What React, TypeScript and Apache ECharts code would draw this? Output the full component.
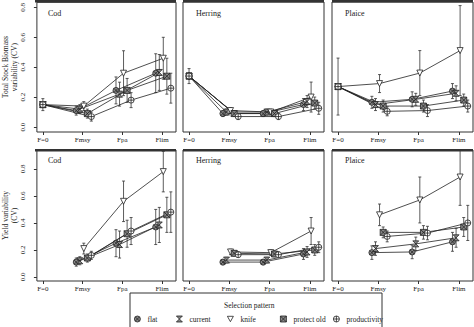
import React, { useEffect, useRef } from 'react';
import * as echarts from 'echarts';

const fLevels = ['F=0', 'Fmsy', 'Fpa', 'Flim'];
const patterns = ['flat', 'current', 'knife', 'protect old', 'productivity'];
const stocks = ['Cod', 'Herring', 'Plaice'];
const yTicks = [0, 0.2, 0.4, 0.6, 0.8];

// Total stock biomass variability (CV); rows = selection patterns, columns = F levels
const codTsb = [
  [0.15, 0.11, 0.245, 0.36],
  [0.15, 0.12, 0.22, 0.365],
  [0.15, 0.14, 0.36, 0.46],
  [0.15, 0.09, 0.245, 0.34],
  [0.15, 0.07, 0.18, 0.26],
];
const codTsbErr = [
  [0.04, 0.03, 0.09, 0.13],
  [0.04, 0.03, 0.08, 0.12],
  [0.04, 0.03, 0.15, 0.14],
  [0.04, 0.03, 0.08, 0.12],
  [0.04, 0.03, 0.05, 0.1],
];
const herTsb = [
  [0.34, 0.09, 0.09, 0.15],
  [0.34, 0.1, 0.1, 0.17],
  [0.34, 0.11, 0.1, 0.2],
  [0.34, 0.09, 0.09, 0.16],
  [0.34, 0.07, 0.07, 0.125],
];
const herTsbErr = [
  [0.05, 0.02, 0.02, 0.04],
  [0.05, 0.02, 0.02, 0.04],
  [0.05, 0.02, 0.02, 0.1],
  [0.05, 0.02, 0.02, 0.04],
  [0.05, 0.02, 0.02, 0.04],
];
const plaTsb = [
  [0.27, 0.165, 0.185, 0.24],
  [0.27, 0.15, 0.185, 0.225],
  [0.27, 0.29, 0.36, 0.51],
  [0.27, 0.14, 0.14, 0.18],
  [0.27, 0.105, 0.11, 0.14],
];
const plaTsbErr = [
  [0.19, 0.04, 0.05, 0.05],
  [0.19, 0.04, 0.04, 0.05],
  [0.19, 0.06, 0.15, 0.3],
  [0.19, 0.04, 0.04, 0.04],
  [0.19, 0.03, 0.04, 0.04],
];

// Yield variability (CV); no yield at F=0
const codYield = [
  [null, 0.11, 0.25, 0.37],
  [null, 0.12, 0.24, 0.385],
  [null, 0.21, 0.56, 0.78],
  [null, 0.14, 0.32, 0.46],
  [null, 0.16, 0.34, 0.48],
];
const codYieldErr = [
  [null, 0.03, 0.1, 0.13],
  [null, 0.03, 0.1, 0.13],
  [null, 0.04, 0.15, 0.15],
  [null, 0.03, 0.1, 0.13],
  [null, 0.03, 0.1, 0.15],
];
const herYield = [
  [null, 0.11, 0.11, 0.17],
  [null, 0.125, 0.125, 0.185],
  [null, 0.185, 0.18, 0.34],
  [null, 0.175, 0.17, 0.2],
  [null, 0.165, 0.165, 0.22],
];
const herYieldErr = [
  [null, 0.02, 0.02, 0.04],
  [null, 0.02, 0.02, 0.04],
  [null, 0.02, 0.02, 0.1],
  [null, 0.02, 0.02, 0.04],
  [null, 0.02, 0.02, 0.04],
];
const plaYield = [
  [null, 0.18, 0.185, 0.26],
  [null, 0.21, 0.245, 0.29],
  [null, 0.46, 0.57, 0.74],
  [null, 0.33, 0.33, 0.37],
  [null, 0.3, 0.325, 0.4],
];
const plaYieldErr = [
  [null, 0.05, 0.05, 0.07],
  [null, 0.05, 0.05, 0.07],
  [null, 0.08, 0.17, 0.21],
  [null, 0.04, 0.05, 0.07],
  [null, 0.04, 0.05, 0.13],
];

const panelValues = [codTsb, herTsb, plaTsb, codYield, herYield, plaYield];
const panelErrors = [codTsbErr, herTsbErr, plaTsbErr, codYieldErr, herYieldErr, plaYieldErr];

// layout / style constants
const dodge = [-0.16, -0.07, 0.03, 0.12, 0.22];
const symbols = [
  'path://M0,-10A10,10 0 1,1 0,10A10,10 0 1,1 0,-10ZM-7,-7L7,7M7,-7L-7,7',
  'path://M-10,-10H10L-10,10H10Z',
  'path://M-10,-8H10L0,10Z',
  'path://M-10,-10H10V10H-10ZM-10,-10L10,10M10,-10L-10,10',
  'path://M0,-10A10,10 0 1,1 0,10A10,10 0 1,1 0,-10ZM0,-10V10M-10,0H10',
];
const fills = ['#888', '#888', '#fff', '#888', '#fff'];
const ink = '#222';
const serif = '"Liberation Serif", "DejaVu Serif", serif';
const gridLefts = [35, 183, 332];
const gridWidth = 141;
const rowTops = [2, 150];
const rowHeights = [130, 131];
const rowYMin = [-0.033, -0.03];
const rowYMax = [0.834, 0.94];
const yNames = ['Total Stock Biomass\nvariability (CV)', 'Yield variability\n(CV)'];
const legendLefts = [134, 176, 227, 280, 333];

function buildOption() {
  const grid: any[] = [];
  const xAxis: any[] = [];
  const yAxis: any[] = [];
  const series: any[] = [];
  const graphic: any[] = [];

  for (let r = 0; r < 2; r++) {
    for (let c = 0; c < 3; c++) {
      const p = r * 3 + c;
      grid.push({
        left: gridLefts[c],
        top: rowTops[r],
        width: gridWidth,
        height: rowHeights[r],
        show: true,
        borderColor: '#333',
        borderWidth: 1,
        backgroundColor: '#fff',
      });
      xAxis.push({
        type: 'value',
        gridIndex: p,
        min: -0.15,
        max: 3.35,
        splitLine: { show: false },
        axisLine: { show: false, onZero: false },
        axisTick: {
          show: true,
          customValues: [0, 1, 2, 3],
          length: 3,
          lineStyle: { color: '#333', width: 1 },
        },
        axisLabel: {
          customValues: [0, 1, 2, 3],
          formatter: (v: number) => fLevels[Math.round(v)],
          fontSize: 7,
          fontFamily: serif,
          color: ink,
          margin: 4,
        },
      });
      yAxis.push({
        type: 'value',
        gridIndex: p,
        min: rowYMin[r],
        max: rowYMax[r],
        splitLine: { show: false },
        axisLine: { show: false, onZero: false },
        axisTick: {
          show: c === 0,
          customValues: yTicks,
          length: 3,
          lineStyle: { color: '#333', width: 1 },
        },
        axisLabel: {
          show: c === 0,
          customValues: yTicks,
          rotate: 90,
          formatter: (v: number) => v.toFixed(1),
          fontSize: 7,
          fontFamily: serif,
          color: ink,
          margin: 10,
        },
        name: c === 0 ? yNames[r] : '',
        nameLocation: 'middle',
        nameRotate: 90,
        nameGap: 17,
        nameTextStyle: { fontSize: 7.5, fontFamily: serif, color: ink, lineHeight: 9 },
      });

      const vals = panelValues[p];
      const errs = panelErrors[p];
      const barData: number[][] = [];
      vals.forEach((row, s) => {
        row.forEach((v, i) => {
          if (v == null) return;
          if (i === 0 && s > 0) return;
          const e = errs[s][i] as number;
          const x = i === 0 ? 0 : i + dodge[s];
          barData.push([x, v - e, v + e]);
        });
      });
      series.push({
        type: 'custom',
        xAxisIndex: p,
        yAxisIndex: p,
        clip: true,
        z: 1,
        silent: true,
        data: barData,
        renderItem: (params: any, api: any) => {
          const x = api.value(0);
          const lo = api.coord([x, api.value(1)]);
          const hi = api.coord([x, api.value(2)]);
          const st = { stroke: '#333', lineWidth: 0.8 };
          return {
            type: 'group',
            children: [
              { type: 'line', shape: { x1: lo[0], y1: lo[1], x2: hi[0], y2: hi[1] }, style: st },
              { type: 'line', shape: { x1: lo[0] - 1.5, y1: lo[1], x2: lo[0] + 1.5, y2: lo[1] }, style: st },
              { type: 'line', shape: { x1: hi[0] - 1.5, y1: hi[1], x2: hi[0] + 1.5, y2: hi[1] }, style: st },
            ],
          };
        },
      });
      vals.forEach((row, s) => {
        const data = row
          .map((v, i) => (v == null ? null : [i === 0 ? 0 : i + dodge[s], v]))
          .filter((d) => d !== null);
        series.push({
          type: 'line',
          name: patterns[s],
          xAxisIndex: p,
          yAxisIndex: p,
          data,
          symbol: symbols[s],
          symbolSize: 6,
          showSymbol: true,
          z: 3,
          silent: true,
          lineStyle: { color: ink, width: 0.8 },
          itemStyle: { color: fills[s], borderColor: ink, borderWidth: 0.8 },
          emphasis: { disabled: true },
        });
      });

      graphic.push({
        type: 'text',
        left: gridLefts[c] + 13,
        top: rowTops[r] + (r === 0 ? 7 : 6),
        style: { text: stocks[c], fontSize: 8, fontFamily: serif, fill: ink },
      });
      graphic.push({
        type: 'rect',
        shape: { x: gridLefts[c], y: rowTops[r] - (r === 0 ? 2 : 1), width: gridWidth, height: 2.5 },
        style: { fill: '#333' },
      });
    }
  }

  graphic.push({
    type: 'rect',
    shape: { x: 130, y: 293, width: 252, height: 40 },
    style: { fill: 'none', stroke: '#333', lineWidth: 1 },
  });
  graphic.push({
    type: 'text',
    left: 224,
    top: 301,
    style: { text: 'Selection pattern', fontSize: 7.5, fontFamily: serif, fill: ink },
  });

  const legend = patterns.map((name, s) => ({
    data: [name],
    left: legendLefts[s],
    top: 315,
    padding: 0,
    icon: symbols[s],
    itemWidth: 6,
    itemHeight: 6,
    itemGap: 4,
    selectedMode: false,
    itemStyle: { color: fills[s], borderColor: ink, borderWidth: 0.8 },
    textStyle: { fontSize: 7.5, fontFamily: serif, color: ink, padding: [0, 0, 0, 2] },
  }));

  return {
    animation: false,
    backgroundColor: '#fff',
    grid,
    xAxis,
    yAxis,
    series,
    legend,
    graphic,
  };
}

export default function App() {
  const ref = useRef<HTMLDivElement>(null);
  useEffect(() => {
    if (!ref.current) return;
    const chart = echarts.init(ref.current, undefined, { renderer: 'svg' });
    chart.setOption(buildOption() as any);
    return () => chart.dispose();
  }, []);
  return (
    <div
      ref={ref}
      style={{ position: 'fixed', left: 0, top: 0, width: 474, height: 327, background: '#fff' }}
    />
  );
}
